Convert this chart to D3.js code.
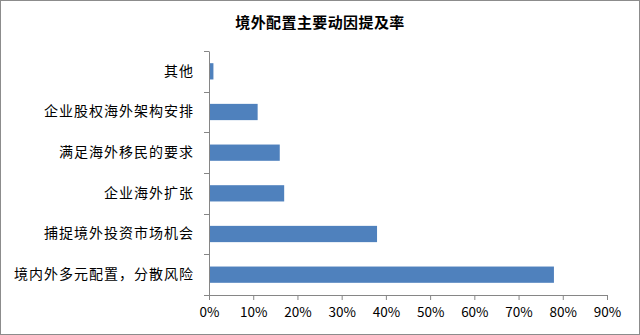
<!doctype html>
<head>
<meta charset="utf-8">
<script src="https://cdn.jsdelivr.net/npm/d3@7"></script>
<style>
  body { margin: 0; background: #fff; }
  text { font-family: "Noto Sans CJK SC", "DejaVu Sans", sans-serif; }
</style>
</head>
<body>
<div id="viz"></div>
<script>

var title = '境外配置主要动因提及率'

var categories = [
  '其他',
  '企业股权海外架构安排',
  '满足海外移民的要求',
  '企业海外扩张',
  '捕捉境外投资市场机会',
  '境内外多元配置，分散风险'
]

var values = [0.01, 0.11, 0.16, 0.17, 0.38, 0.78]

var tickValues = [0, 0.1, 0.2, 0.3, 0.4, 0.5, 0.6, 0.7, 0.8, 0.9]

var width = 640, height = 335
var plotLeft = 209, plotRight = 607, plotTop = 51, plotBottom = 295

var svg = d3.select('#viz').append('svg')
  .attr('width', width)
  .attr('height', height)

// chart frame
svg.append('rect')
  .attr('x', 0.5).attr('y', 0.5)
  .attr('width', width - 1).attr('height', height - 1)
  .style('fill', '#fff')
  .style('stroke', '#8c8c8c')

svg.append('text')
  .attr('x', 320).attr('y', 28)
  .attr('text-anchor', 'middle')
  .style('font-size', '15px')
  .style('letter-spacing', '0.4px')
  .style('font-weight', 'bold')
  .text(title)

var x = d3.scaleLinear().domain([0, 0.9]).range([plotLeft, plotRight])
var y = d3.scaleBand().domain(categories).range([plotTop, plotBottom]).paddingInner(0.6).paddingOuter(0.3)
var yTicks = d3.scaleBand().domain(categories).range([plotTop, plotBottom])

svg.selectAll('rect.bar')
  .data(values)
  .enter()
  .append('rect')
  .attr('class', 'bar')
  .attr('x', x(0))
  .attr('y', function(d, i) { return y(categories[i]); })
  .attr('width', function(d) { return x(d) - x(0); })
  .attr('height', y.bandwidth())
  .style('fill', '#4f81bd')

// x axis
var xAxis = svg.append('g')
  .attr('transform', 'translate(0,' + plotBottom + ')')
  .call(d3.axisBottom(x).tickValues(tickValues).tickFormat(d3.format('.0%')).tickSize(5).tickSizeOuter(0))
xAxis.select('.domain').style('stroke', '#868686')
xAxis.selectAll('.tick line').style('stroke', '#868686')
xAxis.selectAll('.tick text')
  .attr('y', 11)
  .attr('dy', '0.85em')
  .style('font-size', '13.5px')
  .style('fill', '#000')

// y axis
var yAxis = svg.append('g')
  .attr('transform', 'translate(' + plotLeft + ',0)')
  .call(d3.axisLeft(yTicks).tickSize(0).tickPadding(15))
yAxis.select('.domain').style('stroke', '#868686')
yAxis.selectAll('.tick text')
  .style('font-size', '14px')
  .style('letter-spacing', '1px')
  .style('fill', '#000')

svg.append('g').selectAll('line')
  .data(d3.range(categories.length + 1))
  .enter()
  .append('line')
  .attr('x1', plotLeft - 5).attr('x2', plotLeft)
  .attr('y1', function(i) { return Math.round(plotTop + i * yTicks.step()) + 0.5; })
  .attr('y2', function(i) { return Math.round(plotTop + i * yTicks.step()) + 0.5; })
  .style('stroke', '#868686')

</script>
</body>
